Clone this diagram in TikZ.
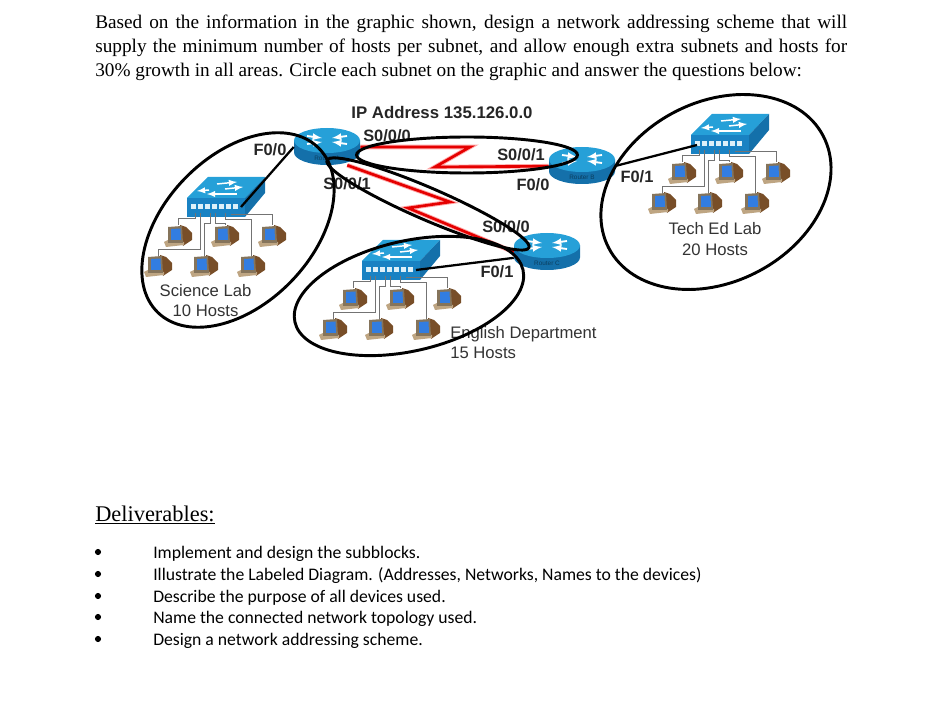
\documentclass[tikz,border=0pt]{standalone}
\usepackage{fontspec}
\setmainfont{Liberation Serif}
\newfontfamily\labelfont{Liberation Sans}
\newfontfamily\listfont{Carlito}
\usetikzlibrary{calc}
\definecolor{ciscotop}{RGB}{38,160,216}
\definecolor{ciscoside}{RGB}{20,112,170}
\definecolor{ciscofront}{RGB}{25,130,195}
\definecolor{pcbody}{RGB}{120,78,40}
\definecolor{pcbase}{RGB}{190,165,130}
\definecolor{pcscreen}{RGB}{50,125,225}
\tikzset{
  portname/.style={font=\labelfont\bfseries\fontsize{12.3}{14}\selectfont,text=black!85,inner sep=0pt},
  lanname/.style={font=\labelfont\fontsize{12.5}{15}\selectfont,text=black!80,inner sep=0pt},
  serial/.style={draw=red!90!black,line width=2pt,preaction={draw=red!35,line width=3.4pt}},
  circled/.style={draw=black,line width=2.2pt},
  lanlink/.style={draw=black,line width=1.7pt},
  wire/.style={draw=black!55,line width=.55pt},
  routerbox/.style={inner sep=0pt,minimum width=49.5pt,minimum height=27pt},
  pcicon/.pic={
    \fill[pcbody] (2,-10)--(8,-8)--(14,-2)--(14,5)--(5,11)--cycle;
    \fill[pcbase] (-14,7)--(-10,5)--(6,7)--(6,10)--(-12,12)--cycle;
    \fill[black!30!pcbase] (-10,-8)--(4,-9)--(5,8)--(-10,8)--cycle;
    \fill[pcscreen] (-7,-6)--(2.5,-6.5)--(3,5)--(-7,5)--cycle;
  },
  routericon/.pic={
    \fill[ciscoside] (-33,-6.5)--(-33,5.5) arc[start angle=180,end angle=0,x radius=33,y radius=12.5]--(33,-6.5)--cycle;
    \fill[ciscotop] (0,-6.5) ellipse[x radius=33,y radius=12.5];
    \foreach \sx/\sy in {-1/-1,1/-1,-1/1,1/1}{
      \draw[white,line width=1.4pt,-latex] (\sx*20,\sy*4-7)--(\sx*5,\sy*2-7);
    }
    \node[text=ciscoside!55!black,font=\labelfont\fontsize{4.8}{5}\selectfont,inner sep=0pt] at (0,11) {#1};
  },
  lan/.pic={
    \fill[ciscotop] (0,-19)--(21,-40)--(78,-40)--(58,-19)--cycle;
    \fill[ciscofront] (0,-19) rectangle (58,0);
    \fill[ciscoside] (58,-19)--(78,-40)--(78,-24)--(58,0)--cycle;
    \foreach \px in {4,11,18,25,32,39,46}{
      \fill[white!85!ciscotop] (\px,-13) rectangle ++(5,5);
    }
    \draw[white,line width=1.1pt,-latex] (30,-33)--(50,-35);
    \draw[white,line width=1.1pt,-latex] (22,-27)--(10,-26);
    \draw[white,line width=1.1pt,-latex] (38,-28)--(56,-30);
    \draw[white,line width=1.1pt,-latex] (50,-23)--(20,-23);
    \draw[wire] (8,-4)--(8,1)--(-9,1)--(-9,8);
    \draw[wire] (13,-4)--(13,32)--(-29,32)--(-29,39);
    \draw[wire] (23,-4)--(23,6)--(17,6)--(17,39);
    \draw[wire] (28,-4)--(28,6)--(38,6)--(38,8);
    \draw[wire] (38,-4)--(38,2)--(64,2)--(64,39);
    \draw[wire] (44,-3)--(85,-3)--(85,8);
    \foreach \pcx/\pcy in {-9/18,38/18,85/18,-29/48,17/48,64/48}{
      \pic at (\pcx,\pcy) {pcicon};
    }
    \coordinate (-portl) at (6,-9);
    \coordinate (-portr) at (54,-10);
  }
}
\begin{document}
\begin{tikzpicture}[x=.75pt,y=-.75pt]
\useasboundingbox (0,0) rectangle (926,716);

\node[anchor=north west,text width=564pt,align=justify,inner sep=0pt,font=\fontsize{14.45}{18}\selectfont] (intro) at (95,15)
{Based on the information in the graphic shown, design a network addressing scheme that will\linebreak supply the minimum number of hosts per subnet, and allow enough extra subnets and hosts for\linebreak 30\% growth in all areas. Circle each subnet on the graphic and answer the questions below:};

\node[routerbox] (routerA) at (327,147) {};
\node[routerbox] (routerB) at (582,166) {};
\node[routerbox] (routerC) at (547,252) {};

\coordinate (zabtop) at (470,147);
\coordinate (zabbot) at (435,167);
\coordinate (zactop) at (450,202);
\coordinate (zacbot) at (408,208);
\draw[serial] (routerA)--(zabtop)--(zabbot)--(routerB);
\draw[serial] (routerA.-42)--(zactop)--(zacbot)--(routerC.west);

\pic (lanS) at (187,217) {lan};
\pic (lanT) at (691,154) {lan};
\pic (lanE) at (362,280) {lan};

\pic at (routerA) {routericon={Router A}};
\pic at (routerB) {routericon={Router B}};
\pic at (routerC) {routericon={Router C}};

\node[font=\labelfont\bfseries\fontsize{12.6}{15}\selectfont,text=black!85,inner sep=0pt] (title) at (442,113) {IP Address 135.126.0.0};
\node[portname] (aser0) at (387,136) {S0/0/0};
\node[portname] (aser1) at (347,184) {S0/0/1};
\node[portname] (afa0) at (270,150) {F0/0};
\node[portname] (bser1) at (521,155) {S0/0/1};
\node[portname] (bfa0) at (533,185) {F0/0};
\node[portname] (bfa1) at (637,177) {F0/1};
\node[portname] (cser0) at (506,227) {S0/0/0};
\node[portname] (cfa1) at (497,272) {F0/1};

\node[lanname,align=center] (scilab) at (205.5,300.5) {Science Lab\\[.6pt]10 Hosts};
\node[lanname,align=center] (techlab) at (715,239) {Tech Ed Lab\\[.6pt]20 Hosts};
\node[lanname,align=left,anchor=west] (englab) at (450,342.5) {English Department\\[.6pt]15 Hosts};

\draw[lanlink] (routerA.west)--(lanS-portr);
\draw[lanlink] (routerB.east)--(lanT-portl);
\draw[lanlink] (routerC.190)--(lanE-portr);

\coordinate (ringS) at (238,230);
\coordinate (ringT) at (716,192);
\coordinate (ringE) at (409,296);
\coordinate (ringAB) at (467,155);
\coordinate (ringAC) at (428,204);
\draw[circled,rotate around={45.8:(ringS)}] (ringS) ellipse[x radius=115,y radius=74];
\draw[circled,rotate around={27.6:(ringT)}] (ringT) ellipse[x radius=121,y radius=90];
\draw[circled,rotate around={12.9:(ringE)}] (ringE) ellipse[x radius=117,y radius=55];
\draw[circled] (ringAB) ellipse[x radius=110.5,y radius=18];
\draw[circled,rotate around={-23.4:(ringAC)}] (ringAC) ellipse[x radius=110,y radius=16];

\node[anchor=west,inner sep=0pt,font=\fontsize{16.8}{20}\selectfont] (deliver) at (95,515) {\underline{Deliverables:}};
\foreach \row/\ypos/\txt in {1/552/{Implement and design the subblocks.},2/574/{Illustrate the Labeled Diagram. (Addresses, Networks, Names to the devices)},3/596/{Describe the purpose of all devices used.},4/617/{Name the connected network topology used.},5/639/{Design a network addressing scheme.}}{
  \node[circle,fill=black,inner sep=0pt,minimum size=4.6pt] (dot\row) at (98,\ypos) {};
  \node[anchor=west,inner sep=0pt,font=\listfont\fontsize{13.25}{15}\selectfont] (item\row) at (153,\ypos+2) {\txt};
}
\end{tikzpicture}
\end{document}
